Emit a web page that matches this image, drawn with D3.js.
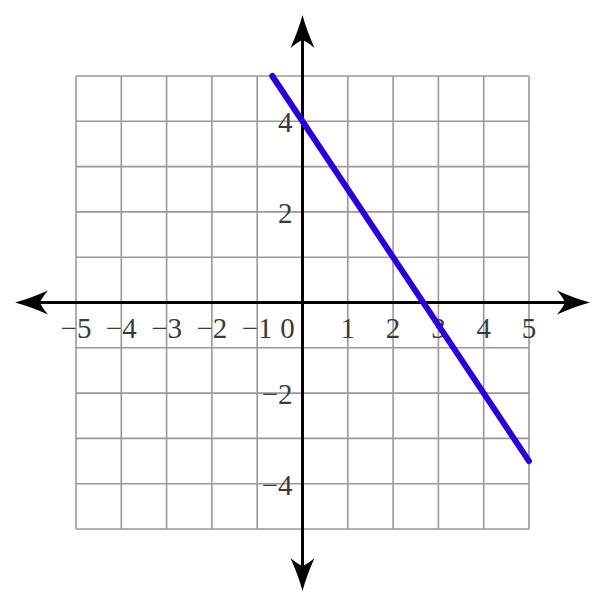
<!DOCTYPE html>
<html>
<head>
<meta charset="utf-8">
<script src="https://cdn.jsdelivr.net/npm/d3@7"></script>
<style>
html,body{margin:0;padding:0;background:#fff;}
svg{display:block;}
</style>
</head>
<body>
<svg id="chart" width="606" height="607"></svg>
<script>
const gridValues = [-5,-4,-3,-2,-1,0,1,2,3,4,5];
const xTickLabels = [-5,-4,-3,-2,-1,1,2,3,4,5];
const yTickLabels = [4,2,-2,-4];
const lineX = [-0.667, 5];
const lineY = [5, -3.5];

const svg = d3.select("#chart");
const x = d3.scaleLinear().domain([-5,5]).range([76,529]);
const y = d3.scaleLinear().domain([-5,5]).range([529,76]);

// grid
const g = svg.append("g");
g.selectAll("line.v").data(gridValues).enter().append("line")
  .attr("x1", d=>x(d)).attr("x2", d=>x(d)).attr("y1", y(5)).attr("y2", y(-5))
  .attr("stroke","#999").attr("stroke-width",1.6);
g.selectAll("line.h").data(gridValues).enter().append("line")
  .attr("y1", d=>y(d)).attr("y2", d=>y(d)).attr("x1", x(-5)).attr("x2", x(5))
  .attr("stroke","#999").attr("stroke-width",1.6);

// labels
const fontFam = "'Liberation Serif','Times New Roman',serif";
const fs = 29;
const minus = v => v < 0 ? "\u2212" + Math.abs(v) : String(v);
svg.selectAll("text.xl").data(xTickLabels).enter().append("text")
  .attr("x", d=>x(d)).attr("y", y(0)+35)
  .attr("text-anchor","middle")
  .attr("font-family",fontFam).attr("font-size",fs).attr("fill","#3a3a3a")
  .text(d=>minus(d));
svg.append("text").attr("x", x(0)-15).attr("y", y(0)+35)
  .attr("text-anchor","middle")
  .attr("font-family",fontFam).attr("font-size",fs).attr("fill","#3a3a3a")
  .text("0");
svg.selectAll("text.yl").data(yTickLabels).enter().append("text")
  .attr("x", x(0)-10).attr("y", d=>y(d)+11)
  .attr("text-anchor","end")
  .attr("font-family",fontFam).attr("font-size",fs).attr("fill","#3a3a3a")
  .text(d=>minus(d));

// axes
const axTop = 15, axBot = 591, axLeft = 15, axRight = 590;
svg.append("line").attr("x1",axLeft+20).attr("x2",axRight-20).attr("y1",y(0)).attr("y2",y(0))
  .attr("stroke","#000").attr("stroke-width",3);
svg.append("line").attr("y1",axTop+20).attr("y2",axBot-20).attr("x1",x(0)).attr("x2",x(0))
  .attr("stroke","#000").attr("stroke-width",3);

// arrowhead pointing right at origin (tip at 0,0)
const headPath = "M0,0 Q-15,-4 -33,-12 Q-27,-5 -25,0 Q-27,5 -33,12 Q-15,4 0,0 Z";
function arrow(tx, ty, angle){
  svg.append("path").attr("d", headPath)
    .attr("transform", `translate(${tx},${ty}) rotate(${angle})`)
    .attr("fill","#000");
}
arrow(axRight, y(0), 0);
arrow(axLeft, y(0), 180);
arrow(x(0), axTop, -90);
arrow(x(0), axBot, 90);

// line
const pts = lineX.map((v,i)=>[v, lineY[i]]);
svg.append("path").datum(pts)
  .attr("d", d3.line().x(d=>x(d[0])).y(d=>y(d[1])))
  .attr("fill","none").attr("stroke","#2a00d8").attr("stroke-width",6)
  .attr("stroke-linecap","round");
</script>
</body>
</html>
